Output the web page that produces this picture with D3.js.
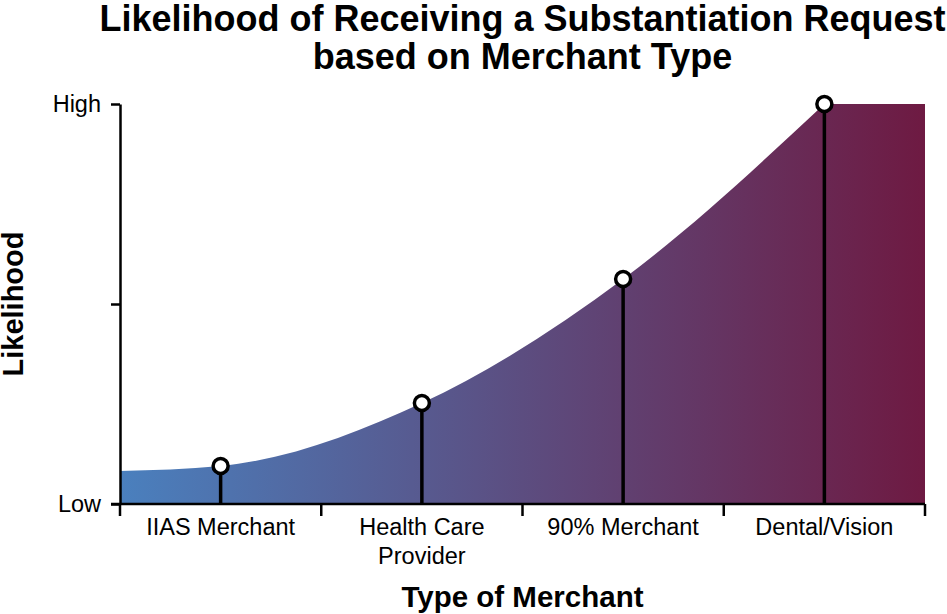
<!DOCTYPE html>
<html>
<head>
<meta charset="utf-8">
<script src="https://cdn.jsdelivr.net/npm/d3@7"></script>
<style>
  body { margin: 0; background: #fff; }
  svg text { font-family: "Liberation Sans", Arial, sans-serif; fill: #000; }
</style>
</head>
<body>
<svg id="chartId" width="947" height="614"></svg>
<script>
// data
const merchants = ["IIAS Merchant", "Health Care Provider", "90% Merchant", "Dental/Vision"];
const likelihood = [0.095, 0.2525, 0.5625, 1.0];
const startLevel = 0.0825; // curve level at the left edge
const yTickValues = [0, 0.5, 1];
const yTickLabels = ["Low", "", "High"];

const svg = d3.select("#chartId");
const width = +svg.attr("width");
const height = +svg.attr("height");
const margin = { top: 104, right: 22, bottom: 110, left: 120 };
const innerWidth = width - margin.left - margin.right;
const innerHeight = height - margin.top - margin.bottom;

const xScale = d3.scaleBand().domain(merchants).range([0, innerWidth]);
const yScale = d3.scaleLinear().domain([0, 1]).range([innerHeight, 0]);

const g = svg.append("g").attr("transform", `translate(${margin.left}, ${margin.top})`);

// gradient fill
const defs = svg.append("defs");
const grad = defs.append("linearGradient")
  .attr("id", "areaGrad")
  .attr("gradientUnits", "userSpaceOnUse")
  .attr("x1", 0).attr("x2", innerWidth).attr("y1", 0).attr("y2", 0);
grad.append("stop").attr("offset", "0%").attr("stop-color", "#4a80be");
grad.append("stop").attr("offset", "100%").attr("stop-color", "#6e1a42");

const center = (d) => xScale(d) + xScale.bandwidth() / 2;

const pts = [[0, startLevel]].concat(merchants.map((m, i) => [center(m), likelihood[i]]));
const topLine = d3.line()
  .x((d) => d[0])
  .y((d) => yScale(d[1]))
  .curve(d3.curveMonotoneX)(pts);
const last = pts[pts.length - 1];
const areaPath = topLine +
  `L${innerWidth},${yScale(last[1])}L${innerWidth},${yScale(0)}L0,${yScale(0)}Z`;

g.append("path").attr("d", areaPath).attr("fill", "url(#areaGrad)");

// lollipop stems
g.selectAll(".stem")
  .data(merchants)
  .enter()
  .append("line")
  .attr("class", "stem")
  .attr("x1", center).attr("x2", center)
  .attr("y1", yScale(0))
  .attr("y2", (d, i) => yScale(likelihood[i]))
  .attr("stroke", "#000")
  .attr("stroke-width", 3.5);

// axes
const yAxis = d3.axisLeft(yScale)
  .tickValues(yTickValues)
  .tickFormat((d, i) => yTickLabels[i])
  .tickSize(9)
  .tickSizeOuter(0)
  .tickPadding(10);
const yAxisG = g.append("g").call(yAxis);
yAxisG.selectAll("path, line").attr("stroke", "#000").attr("stroke-width", 2.5);
yAxisG.selectAll("text").attr("font-size", 23.5);

const xAxis = d3.axisBottom(xScale).tickSize(0).tickSizeOuter(0).tickFormat("");
const xAxisG = g.append("g").attr("transform", `translate(0, ${innerHeight})`).call(xAxis);
xAxisG.select(".domain").attr("d", `M-9,0H${innerWidth}`).attr("stroke", "#000").attr("stroke-width", 2.5);

// band boundary ticks
const boundaries = merchants.map((m) => xScale(m)).concat([innerWidth]);
xAxisG.selectAll(".bound")
  .data(boundaries)
  .enter()
  .append("line")
  .attr("class", "bound")
  .attr("x1", (d) => d).attr("x2", (d) => d)
  .attr("y1", 0).attr("y2", 12)
  .attr("stroke", "#000").attr("stroke-width", 2.5);

// category labels (wrap long ones)
const wrapLabel = { "Health Care Provider": ["Health Care", "Provider"] };
merchants.forEach((m) => {
  const lines = wrapLabel[m] || [m];
  const t = xAxisG.append("text")
    .attr("x", center(m))
    .attr("y", 31)
    .attr("text-anchor", "middle")
    .attr("font-size", 23.5);
  lines.forEach((l, i) => {
    t.append("tspan").attr("x", center(m)).attr("dy", i === 0 ? 0 : 29).text(l);
  });
});

// points
g.selectAll(".pt")
  .data(merchants)
  .enter()
  .append("circle")
  .attr("class", "pt")
  .attr("cx", center)
  .attr("cy", (d, i) => yScale(likelihood[i]))
  .attr("r", 7.5)
  .attr("fill", "#fff")
  .attr("stroke", "#000")
  .attr("stroke-width", 3.5);

// titles
const title = svg.append("text")
  .attr("text-anchor", "middle")
  .attr("font-size", 36)
  .attr("font-weight", "bold");
title.append("tspan").attr("x", margin.left + innerWidth / 2).attr("y", 31)
  .text("Likelihood of Receiving a Substantiation Request");
title.append("tspan").attr("x", margin.left + innerWidth / 2).attr("y", 69)
  .text("based on Merchant Type");

svg.append("text")
  .attr("x", margin.left + innerWidth / 2)
  .attr("y", 607)
  .attr("text-anchor", "middle")
  .attr("font-size", 29.5)
  .attr("font-weight", "bold")
  .text("Type of Merchant");

svg.append("text")
  .attr("transform", `translate(23, ${margin.top + innerHeight / 2}) rotate(-90)`)
  .attr("text-anchor", "middle")
  .attr("font-size", 29)
  .attr("font-weight", "bold")
  .text("Likelihood");
</script>
</body>
</html>
